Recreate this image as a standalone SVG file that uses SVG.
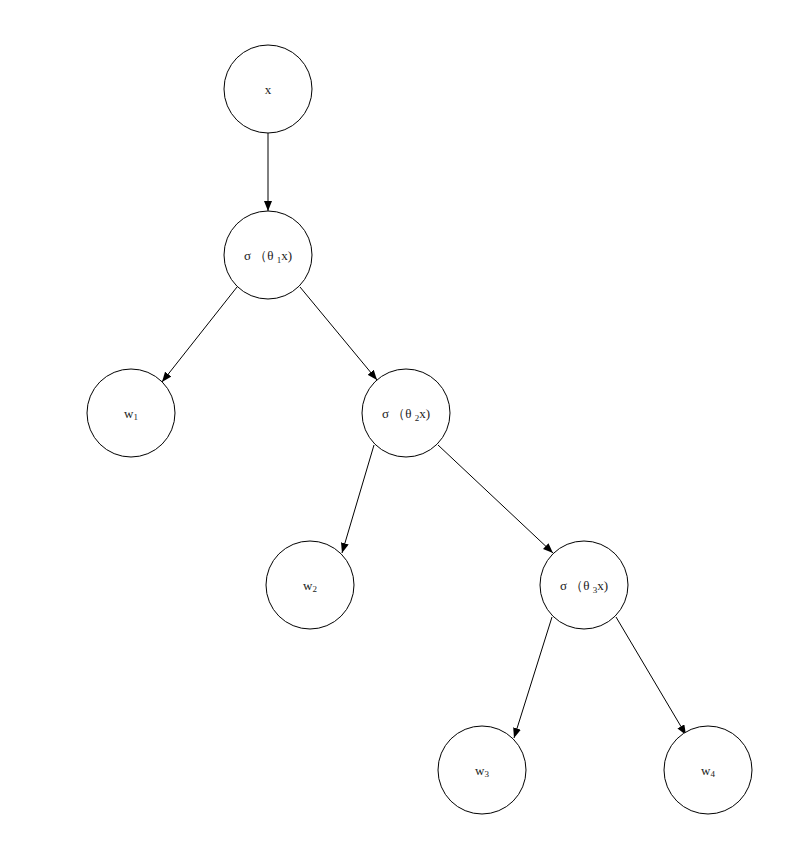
<svg xmlns="http://www.w3.org/2000/svg" width="792" height="849" viewBox="0 0 792 849">
<style>
circle{fill:#fff;stroke:#000;stroke-width:1}
text{font-family:"Liberation Serif",serif;font-size:13px;fill:#222;text-anchor:middle}
.e line{stroke:#000;stroke-width:1;marker-end:url(#a)}
</style>
<defs><marker id="a" markerWidth="10" markerHeight="8" refX="10" refY="4" orient="auto" markerUnits="userSpaceOnUse"><path d="M0,0L10,4L0,8z"/></marker></defs>
<rect width="792" height="849" fill="#fff"/>
<g class="e">
<line x1="268" y1="133" x2="268" y2="211"/>
<line x1="237" y1="287" x2="162" y2="382"/>
<line x1="300" y1="287" x2="377" y2="380"/>
<line x1="374" y1="445" x2="342" y2="553"/>
<line x1="438" y1="445" x2="553" y2="553"/>
<line x1="552" y1="617" x2="514" y2="738"/>
<line x1="616" y1="617" x2="686" y2="735"/>
</g>
<g id="x"><circle cx="268" cy="89" r="44"/><text x="268" y="94">x</text></g>
<g id="s1"><circle cx="268" cy="255" r="44"/><text x="268" y="260">σ （θ <tspan font-size="9" dy="3">1</tspan><tspan dy="-3">x)</tspan></text></g>
<g id="w1"><circle cx="131" cy="413" r="44"/><text x="131" y="418">w<tspan font-size="9" dy="2">1</tspan></text></g>
<g id="s2"><circle cx="406" cy="413" r="44"/><text x="406" y="418">σ （θ <tspan font-size="9" dy="3">2</tspan><tspan dy="-3">x)</tspan></text></g>
<g id="w2"><circle cx="310" cy="585" r="44"/><text x="310" y="590">w<tspan font-size="9" dy="2">2</tspan></text></g>
<g id="s3"><circle cx="584" cy="585" r="44"/><text x="584" y="590">σ （θ <tspan font-size="9" dy="3">3</tspan><tspan dy="-3">x)</tspan></text></g>
<g id="w3"><circle cx="482" cy="770" r="44"/><text x="482" y="775">w<tspan font-size="9" dy="2">3</tspan></text></g>
<g id="w4"><circle cx="708" cy="770" r="44"/><text x="708" y="775">w<tspan font-size="9" dy="2">4</tspan></text></g>
</svg>
